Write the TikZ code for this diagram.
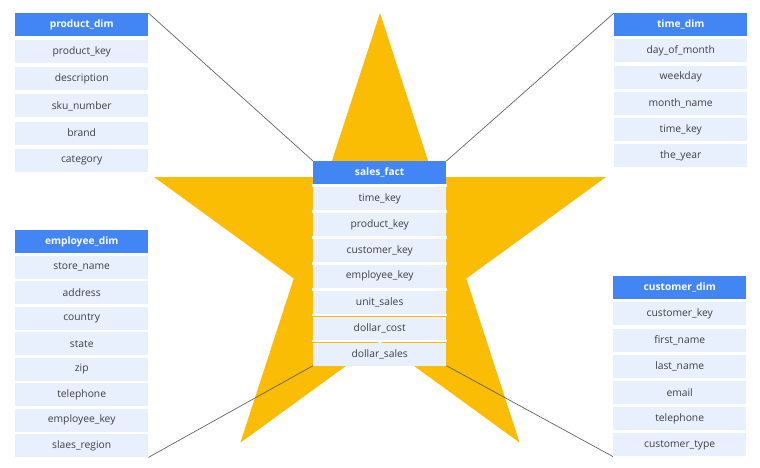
\documentclass[tikz,border=0pt]{standalone}
\usepackage{fontspec}
\setmainfont{Open Sans}
\usetikzlibrary{positioning}

\definecolor{hdrblue}{HTML}{4285F4}
\definecolor{fldblue}{HTML}{E8F0FE}
\definecolor{fldtext}{HTML}{3C4043}
\definecolor{staryellow}{HTML}{FBBC04}
\definecolor{linkgray}{HTML}{5F6368}

\pgfdeclarelayer{starlayer}
\pgfdeclarelayer{backdrop}
\pgfsetlayers{starlayer,backdrop,main}

\tikzset{
	hdr/.style={fill=hdrblue, text=white, font=\fontsize{10.2}{12}\selectfont\bfseries,
		minimum width=133pt, minimum height=23pt, inner sep=0pt},
	fld/.style={fill=fldblue, text=fldtext, font=\fontsize{10.3}{12}\selectfont,
		minimum width=133pt, minimum height=23pt, inner sep=0pt},
	link/.style={draw=linkgray, line width=0.7pt}
}

% #1 name, #2 top left corner, #3 title, #4 gap between rows, #5 fields
\newcommand\erdtable[5]{%
	\node[hdr, anchor=north west] (#1-0) at (#2) {#3};
	\foreach \fldname [count=\i] in {#5} {
		\pgfmathtruncatemacro\j{\i-1}
		\node[fld, below=#4 of #1-\j] (#1-\i) {\fldname};
		% white gap between the rows
		\begin{pgfonlayer}{backdrop}
			\fill[white] ([xshift=-1pt]#1-\j.south west) rectangle ([xshift=1pt]#1-\i.north east);
		\end{pgfonlayer}
	}
}

\begin{document}
\begin{tikzpicture}[x=1pt, y=1pt]
			%%%%% START %%%%%
			\useasboundingbox (0,0) rectangle (760,-468);
			
			% the star behind the fact table
			\begin{pgfonlayer}{starlayer}
				\fill[staryellow, shift={(380,-250.5)}] (90:237.5) -- (126:90.7) -- (162:237.5) -- (198:90.7)
					-- (234:237.5) -- (270:90.7) -- (306:237.5) -- (342:90.7) -- (18:237.5) -- (54:90.7) -- cycle;
			\end{pgfonlayer}
			
			\erdtable{pd}{15,-13}{product\_dim}{3.7pt}{product\_key, description, sku\_number, brand, category}
			\erdtable{td}{614,-13}{time\_dim}{2.8pt}{day\_of\_month, weekday, month\_name, time\_key, the\_year}
			\erdtable{ed}{15,-230}{employee\_dim}{2.1pt}{store\_name, address, country, state, zip, telephone, employee\_key, slaes\_region}
			\erdtable{cd}{613,-276}{customer\_dim}{2.8pt}{customer\_key, first\_name, last\_name, email, telephone, customer\_type}
			
			\erdtable{sf}{313,-161}{sales\_fact}{2.5pt}{time\_key, product\_key, customer\_key, employee\_key, unit\_sales, dollar\_cost, dollar\_sales}
			
			% links to the fact table
			\draw[link] (pd-0.north east) -- (sf-0.north west);
			\draw[link] (td-0.north west) -- (sf-0.north east);
			\draw[link] (ed-8.south east) -- (sf-7.south west);
			\draw[link] (cd-6.south west) -- (sf-7.south east);
			
			%%%%% END %%%%%
\end{tikzpicture}
\end{document}
